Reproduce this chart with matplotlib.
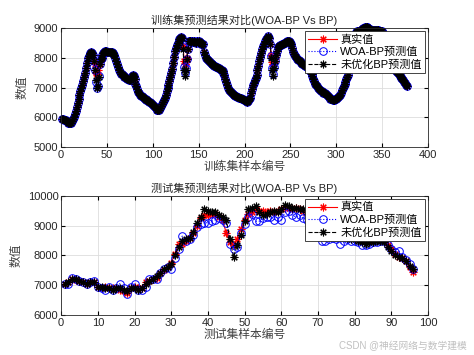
import numpy as np
import matplotlib
matplotlib.use("Agg")
import matplotlib.pyplot as plt

plt.rcParams['font.family'] = ['Liberation Sans', 'Noto Sans CJK SC', 'DejaVu Sans']
plt.rcParams['axes.unicode_minus'] = False

# training set, true values (sample 1..377)
train_true = [
    5950, 5940, 5920, 5910, 5900, 5880, 5850, 5820, 5800, 5790,
    5820, 5880, 5950, 6020, 6100, 6220, 6350, 6480, 6620, 6750,
    6870, 6980, 7100, 7230, 7370, 7500, 7670, 7830, 8000, 8060,
    8120, 8150, 8180, 8160, 8100, 7900, 7800, 7500, 7450, 7600,
    7800, 7850, 7950, 8000, 8080, 8150, 8200, 8240, 8230, 8210,
    8200, 8190, 8210, 8180, 8190, 8150, 8120, 8080, 8000, 7900,
    7800, 7690, 7600, 7530, 7470, 7440, 7410, 7390, 7360, 7340,
    7320, 7300, 7280, 7260, 7250, 7300, 7380, 7410, 7380, 7300,
    7130, 7040, 6950, 6860, 6800, 6760, 6730, 6710, 6690, 6660,
    6630, 6610, 6590, 6570, 6550, 6520, 6500, 6470, 6440, 6410,
    6380, 6340, 6300, 6250, 6240, 6230, 6250, 6300, 6370, 6430,
    6500, 6570, 6650, 6760, 6870, 6970, 7080, 7220, 7350, 7490,
    7630, 7840, 8040, 8240, 8330, 8420, 8500, 8580, 8620, 8660,
    8700, 8650, 8400, 7900, 7800, 7850, 8000, 8300, 8550, 8580,
    8560, 8540, 8550, 8520, 8560, 8540, 8510, 8550, 8530, 8550,
    8520, 8500, 8480, 8470, 8450, 8200, 8080, 8000, 7970, 7940,
    7900, 7860, 7830, 7800, 7780, 7760, 7740, 7720, 7700, 7690,
    7670, 7640, 7610, 7600, 7580, 7550, 7480, 7410, 7300, 7190,
    7080, 6980, 6930, 6880, 6840, 6800, 6780, 6760, 6740, 6720,
    6700, 6690, 6680, 6660, 6650, 6640, 6620, 6600, 6590, 6570,
    6550, 6530, 6520, 6560, 6600, 6650, 6800, 6950, 7080, 7160,
    7250, 7330, 7410, 7580, 7740, 7900, 8030, 8170, 8300, 8390,
    8480, 8580, 8620, 8660, 8700, 8740, 8650, 8450, 8100, 7850,
    7800, 7850, 7950, 8080, 8220, 8360, 8380, 8400, 8420, 8440,
    8460, 8470, 8490, 8510, 8530, 8550, 8580, 8560, 8540, 8510,
    8470, 8330, 8190, 8130, 8070, 8020, 7970, 7940, 7910, 7880,
    7850, 7830, 7800, 7780, 7760, 7740, 7720, 7690, 7650, 7610,
    7560, 7510, 7470, 7390, 7300, 7210, 7130, 7080, 7040, 7000,
    6960, 6910, 6890, 6870, 6850, 6830, 6810, 6800, 6770, 6740,
    6700, 6670, 6630, 6610, 6600, 6590, 6580, 6580, 6600, 6620,
    6650, 6680, 6700, 6760, 6830, 6900, 6970, 7050, 7120, 7200,
    7280, 7350, 7420, 7580, 7740, 7900, 8150, 8400, 8600, 8720,
    8820, 8880, 8890, 8900, 8880, 8900, 8930, 8960, 8990, 9010,
    9030, 9040, 9050, 9020, 8990, 8970, 8960, 8950, 8940, 8950,
    8940, 8930, 8950, 8940, 8930, 8920, 8910, 8900, 8900, 8890,
    8850, 8780, 8700, 8600, 8500, 8400, 8300, 8200, 8100, 8000,
    7900, 7800, 7720, 7640, 7570, 7530, 7480, 7440, 7400, 7370,
    7330, 7290, 7250, 7200, 7150, 7100, 7050,
]

# training predictions follow the true values except at these samples
train_woa_diff = {36: 7900, 37: 7600, 38: 7200, 39: 7000, 40: 7050, 41: 7400, 42: 7800,
                  133: 8350, 134: 7700, 135: 7500, 136: 7650, 137: 7950,
                  229: 8050, 230: 7650, 231: 7450, 232: 7700, 233: 7900}
train_bp_diff = {36: 7900, 37: 7600, 38: 7250, 39: 7000, 40: 7050, 41: 7350, 42: 7800,
                 133: 8300, 134: 7600, 135: 7400, 136: 7600, 137: 7950,
                 229: 8000, 230: 7600, 231: 7400, 232: 7650, 233: 7900}

# test set (sample 1..96)
test_true = [
    7050, 7100, 7200, 7180, 7150, 7100, 7050, 7100, 7100, 6950,
    6900, 6950, 6900, 6900, 6900, 6850, 6800, 6750, 6900, 6950,
    6900, 6900, 7100, 7150, 7200, 7250, 7400, 7500, 7600, 7750,
    8050, 8400, 8400, 8500, 8600, 8750, 9000, 9250, 9350, 9350,
    9400, 9400, 9300, 9200, 8750, 8450, 8350, 8550, 8900, 9200,
    9400, 9450, 9550, 9500, 9500, 9450, 9500, 9450, 9500, 9550,
    9600, 9600, 9550, 9600, 9550, 9500, 9450, 9400, 9300, 9150,
    9000, 8900, 8850, 8800, 8750, 8700, 8700, 8650, 8600, 8600,
    8550, 8500, 8500, 8500, 8520, 8550, 8550, 8500, 8350, 8200,
    8050, 7950, 7900, 7800, 7600, 7450,
]
test_woa = [
    7050, 7050, 7250, 7200, 7150, 7100, 7050, 7100, 7150, 6950,
    6900, 6850, 6950, 6850, 6900, 7050, 6900, 6700, 6950, 7050,
    6850, 6850, 6950, 7200, 7200, 7200, 7400, 7550, 7600, 7550,
    7900, 8200, 8650, 8500, 8550, 8700, 8950, 9050, 9100, 9100,
    9150, 9200, 9250, 9200, 9100, 8400, 8200, 8300, 8750, 9050,
    9300, 9400, 9150, 9150, 9250, 9300, 9300, 9200, 9300, 9200,
    9450, 9500, 9350, 9300, 9350, 9250, 9200, 9050, 8900, 8700,
    8500, 8500, 8550, 8600, 8550, 8400, 8500, 8550, 8500, 8500,
    8450, 8350, 8350, 8400, 8450, 8450, 8500, 8500, 8350, 8200,
    8100, 8150, 7950, 7850, 7700, 7550,
]
test_bp = [
    7050, 7100, 7200, 7200, 7150, 7100, 7050, 7100, 7100, 6950,
    6950, 6900, 6900, 6850, 6900, 6900, 6850, 6800, 6900, 6900,
    6850, 6900, 7050, 7150, 7200, 7300, 7400, 7550, 7600, 7700,
    8000, 8300, 8500, 8550, 8600, 8800, 9100, 9300, 9550, 9500,
    9450, 9450, 9350, 9300, 9200, 8550, 7950, 8350, 8700, 9150,
    9550, 9600, 9650, 9450, 9350, 9400, 9450, 9500, 9450, 9550,
    9700, 9650, 9600, 9600, 9550, 9550, 9450, 9350, 9200, 9050,
    8900, 8850, 8800, 8750, 8700, 8650, 8650, 8600, 8550, 8550,
    8500, 8450, 8400, 8450, 8450, 8500, 8500, 8450, 8300, 8150,
    8000, 7950, 7900, 7800, 7650, 7550,
]

train_woa = list(train_true)
for n, v in train_woa_diff.items():
    train_woa[n - 1] = v
train_bp = list(train_true)
for n, v in train_bp_diff.items():
    train_bp[n - 1] = v

labels = ['真实值', 'WOA-BP预测值', '未优化BP预测值']
star = (8, 2, 0)  # asterisk like MATLAB '*'


def draw(ax, true, woa, bp, title, xlabel, xlim, ylim, xticks, yticks):
    x = np.arange(1, len(true) + 1)
    ax.plot(x, true, '-', marker=star, color='r', lw=0.8, ms=5.5, mew=0.8, label=labels[0], clip_on=False)
    ax.plot(x, woa, ':o', color='b', lw=0.8, ms=5.5, mew=0.7, mfc='none', label=labels[1], clip_on=False)
    ax.plot(x, bp, '--', marker=star, color='k', lw=0.8, ms=5.5, mew=0.8, label=labels[2], clip_on=False)
    ax.set_xlim(*xlim)
    ax.set_ylim(*ylim)
    ax.set_xticks(xticks)
    ax.set_yticks(yticks)
    ax.grid(True, color='#dddddd', lw=0.6)
    ax.set_axisbelow(True)
    ax.tick_params(direction='in', labelsize=8, length=3, top=True, right=True, pad=2,
                   labelcolor='#262626')
    for s in ax.spines.values():
        s.set_linewidth(0.6)
        s.set_color('#262626')
    ax.set_title(title, fontsize=8, pad=3, color='#262626')
    ax.set_xlabel(xlabel, fontsize=8.5, labelpad=1, color='#404040')
    ax.set_ylabel('数值', fontsize=8.5, labelpad=4, color='#404040')
    leg = ax.legend(loc='upper right', fontsize=8, fancybox=False, framealpha=1,
                    edgecolor='#262626', borderaxespad=0.3, handlelength=2.6,
                    borderpad=0.25, labelspacing=0.25, handletextpad=0.3)
    leg.get_frame().set_linewidth(0.6)
    leg.set_zorder(5)


fig = plt.figure(figsize=(4.74, 3.55), dpi=100)
ax1 = fig.add_axes([0.129, 0.586, 0.774, 0.335])
ax2 = fig.add_axes([0.129, 0.113, 0.774, 0.335])

draw(ax1, train_true, train_woa, train_bp, '训练集预测结果对比(WOA-BP Vs BP)', '训练集样本编号',
     (0, 400), (5000, 9000), range(0, 401, 50), range(5000, 9001, 1000))
draw(ax2, test_true, test_woa, test_bp, '测试集预测结果对比(WOA-BP Vs BP)', '测试集样本编号',
     (0, 100), (6000, 10000), range(0, 101, 10), range(6000, 10001, 1000))

fig.text(0.985, 0.012, 'CSDN @神经网络与数学建模', ha='right', va='bottom', fontsize=7, color='#c0c0c0')

plt.savefig('out.png', dpi=100)
